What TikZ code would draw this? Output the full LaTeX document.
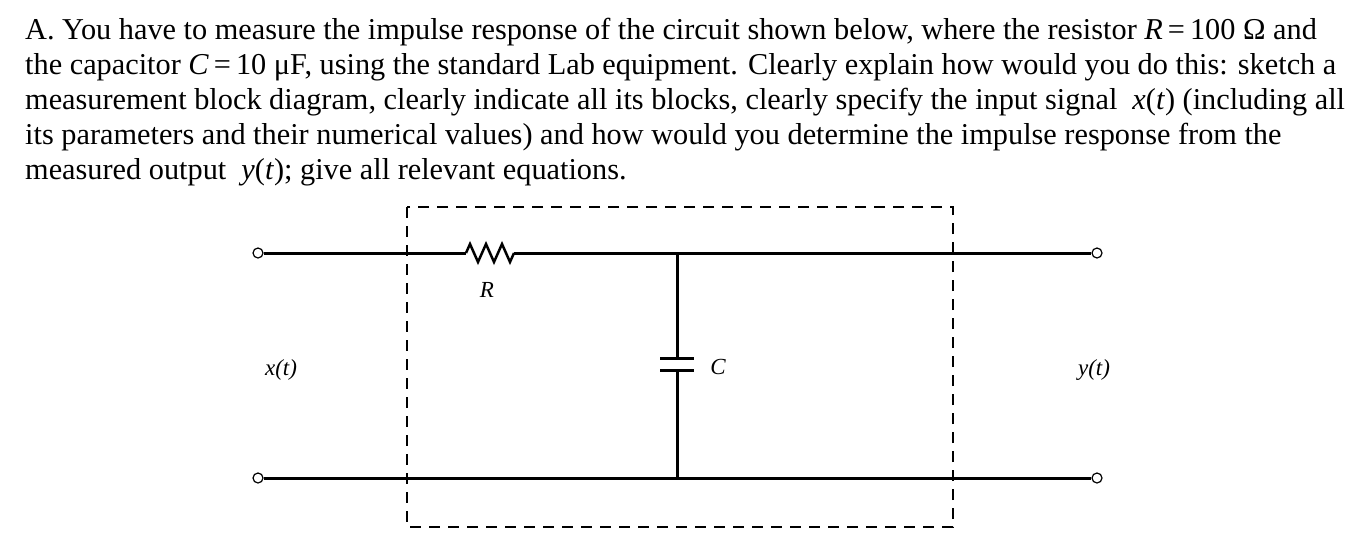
\documentclass[tikz,border=0pt]{standalone}
\usepackage{fontspec}
\setmainfont{Liberation Serif}
\begin{document}
\begin{tikzpicture}[x=1pt,y=-1pt,
  wire/.style={line width=3pt},
  term/.style={circle,draw,line width=1.2pt,fill=white,inner sep=0pt,minimum size=10pt},
  lab/.style={font=\fontsize{23}{26}\selectfont\itshape}]
\useasboundingbox (0,0) rectangle (1371,547);
\node[anchor=north west,inner sep=0pt,align=left,font=\fontsize{30.3}{35}\selectfont] (txt) at (25,18)
{A. You have to measure the impulse response of the circuit shown below, where the resistor \textit{R}\,=\,100 Ω and\\
the capacitor \textit{C}\,=\,10 μF, using the standard Lab equipment. Clearly explain how would you do this: sketch a\\
measurement block diagram, clearly indicate all its blocks, clearly specify the input signal \ \textit{x}(\textit{t}) (including all\\
its parameters and their numerical values) and how would you determine the impulse response from the\\
measured output \ \textit{y}(\textit{t}); give all relevant equations.};
\draw[dashed,line width=1.2pt,dash pattern=on 11pt off 8pt] (407,207) rectangle (953,527);
\coordinate (r1) at (466,253);
\coordinate (r2) at (514,253);
\coordinate (j1) at (677,253);
\coordinate (j2) at (677,478);
\coordinate (c1) at (677,358);
\coordinate (c2) at (677,370);
\node[term] (a1) at (258,253) {};
\node[term] (a2) at (258,478) {};
\node[term] (b1) at (1097,253) {};
\node[term] (b2) at (1097,478) {};
\draw[wire] (a1) -- (r1);
\draw[line width=2.5pt,line join=miter] (r1) -- ++(4,-9) -- ++(8,18) -- ++(8,-18) -- ++(8,18) -- ++(8,-18) -- ++(8,18) -- (r2);
\draw[wire] (r2) -- (b1);
\draw[wire] (a2) -- (b2);
\draw[wire] (j1) -- (c1);
\draw[wire] (c2) -- (j2);
\draw[wire] (660,358) -- (694,358);
\draw[wire] (660,370) -- (694,370);
\node[lab] (R) at (487,290) {R};
\node[lab] (C) at (718,367) {C};
\node[lab] (x) at (281,370) {x(t)};
\node[lab] (y) at (1094,370) {y(t)};
\end{tikzpicture}
\end{document}
